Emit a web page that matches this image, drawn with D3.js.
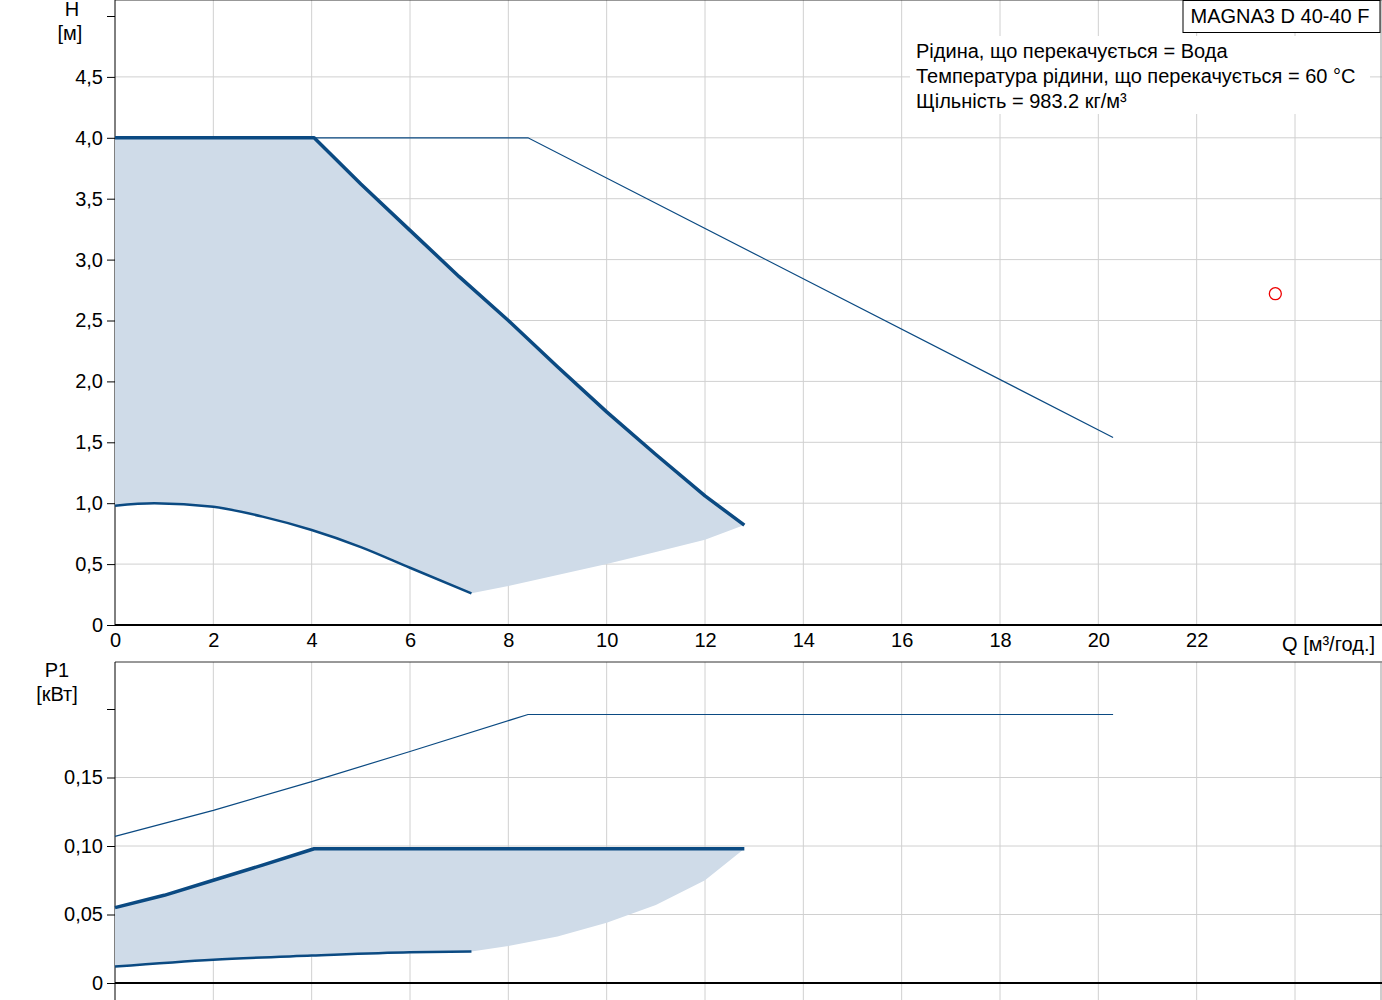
<!DOCTYPE html>
<html><head><meta charset="utf-8">
<script src="https://cdn.jsdelivr.net/npm/d3@7"></script>
<style>body{margin:0;background:#fff}text{font-family:"Liberation Sans",Arial,sans-serif;font-size:20px;fill:#000}</style>
</head><body><svg id="c" width="1382" height="1000"></svg>
<script>
// head curves [Q, H]
let hMax = [[0,4.0],[4.05,4.0],[5,3.62],[6,3.24],[7,2.86],[8,2.5],[9,2.12],[10,1.75],[11,1.4],[12,1.06],[12.8,0.82]];
let hMin = [[0,0.98],[0.8,1.0],[2,0.97],[3,0.89],[4,0.78],[5,0.64],[6,0.47],[7.25,0.26]];
let hEdge = [[7.25,0.26],[8,0.32],[9,0.41],[10,0.5],[11,0.6],[12,0.7],[12.8,0.82]];
let hThin = [[0,4.0],[8.4,4.0],[20.3,1.54]];
let dutyPoint = [23.6, 2.72];
// power curves [Q, P1]
let pMax = [[0,0.055],[1,0.064],[2,0.075],[3,0.086],[4.05,0.098],[12.8,0.098]];
let pMin = [[0,0.012],[2,0.017],[4,0.02],[6,0.0225],[7.25,0.023]];
let pEdge = [[7.25,0.023],[8,0.027],[9,0.034],[10,0.044],[11,0.057],[12,0.075],[12.8,0.098]];
let pThin = [[0,0.107],[2,0.126],[4,0.147],[6,0.169],[8.4,0.196],[20.3,0.196]];
let xTicks = [0,2,4,6,8,10,12,14,16,18,20,22];
let hTicks = [0,0.5,1,1.5,2,2.5,3,3.5,4,4.5];
let pTicks = [0,0.05,0.1,0.15];
let infoLines = ["Рідина, що перекачується = Вода","Температура рідини, що перекачується = 60 °C","Щільність = 983.2 кг/м³"];

const svg = d3.select("#c");
const dark = "#0b4a82", fillC = "#cfdbe8", grid = "#d0d0d0";
const x = d3.scaleLinear().domain([0,24]).range([115,1295]);
const yH = d3.scaleLinear().domain([0,5]).range([625,16]);
const yP = d3.scaleLinear().domain([0,0.2]).range([983,709]);

function panel(y, ticks, top, bottom, dec){
  const g = svg.append("g");
  [...xTicks.slice(1), 24].forEach(t => g.append("line").attr("x1",x(t)).attr("x2",x(t)).attr("y1",top).attr("y2",bottom).attr("stroke",grid));
  ticks.slice(1).forEach(t => g.append("line").attr("x1",115).attr("x2",1382).attr("y1",y(t)).attr("y2",y(t)).attr("stroke",grid));
  g.append("line").attr("x1",115).attr("x2",1382).attr("y1",top).attr("y2",top).attr("stroke","#333");
  g.append("line").attr("x1",1381).attr("x2",1381).attr("y1",top).attr("y2",bottom).attr("stroke","#999");
  const ax = g.append("g").attr("transform","translate(115,0)").call(d3.axisLeft(y).tickValues([...ticks, y.domain()[1]]).tickSize(8).tickPadding(4).tickFormat(d => d===y.domain()[1] ? "" : (d===0?"0":d3.format("."+dec+"f")(d).replace(".",","))));
  ax.select(".domain").attr("d","M0,"+top+"V"+bottom);
  ax.selectAll("text").style("font-size","20px").attr("dy","0.32em");
  g.append("line").attr("x1",115).attr("x2",1382).attr("y1",y(0)).attr("y2",y(0)).attr("stroke","#000").attr("stroke-width",2);
  return g;
}
const gH = panel(yH, hTicks, 0, 625, 1);
const gP = panel(yP, pTicks, 662, 1000, 2);

const xa = svg.append("g").attr("transform","translate(0,625)").call(d3.axisBottom(x).tickValues(xTicks).tickSize(0).tickPadding(8));
xa.select(".domain").remove(); xa.selectAll("text").style("font-size","20px");
svg.append("text").attr("x",1375).attr("y",651).attr("text-anchor","end").text("Q [м³/год.]");
svg.append("text").attr("x",72).attr("y",16).attr("text-anchor","middle").text("H");
svg.append("text").attr("x",70).attr("y",40).attr("text-anchor","middle").text("[м]");
svg.append("text").attr("x",57).attr("y",677).attr("text-anchor","middle").text("P1");
svg.append("text").attr("x",57).attr("y",701).attr("text-anchor","middle").text("[кВт]");

function draw(g, y, mx, mn, edge, thin){
  const lin = d3.line().x(d=>x(d[0])).y(d=>y(d[1]));
  const smooth = d3.line().x(d=>x(d[0])).y(d=>y(d[1])).curve(d3.curveMonotoneX);
  const poly = [...mx, ...edge.slice().reverse(), ...mn.slice().reverse()];
  g.append("path").attr("d", lin(poly)).attr("fill",fillC);
  g.append("path").attr("d",lin(thin)).attr("fill","none").attr("stroke",dark).attr("stroke-width",1.2);
  g.append("path").attr("d",lin(mx)).attr("fill","none").attr("stroke",dark).attr("stroke-width",3.5).attr("stroke-linejoin","round");
  g.append("path").attr("d",smooth(mn)).attr("fill","none").attr("stroke",dark).attr("stroke-width",2.5);
}
draw(gH, yH, hMax, hMin, hEdge, hThin);
draw(gP, yP, pMax, pMin, pEdge, pThin);
gH.append("circle").attr("cx",x(dutyPoint[0])).attr("cy",yH(dutyPoint[1])).attr("r",6).attr("fill","none").attr("stroke","#e00").attr("stroke-width",1.3);

svg.append("rect").attr("x",1183).attr("y",0.5).attr("width",197).attr("height",32).attr("fill","#fff").attr("stroke","#000");
svg.append("text").attr("x",1280).attr("y",23).attr("text-anchor","middle").text("MAGNA3 D 40-40 F");
svg.append("rect").attr("x",910).attr("y",36).attr("width",460).attr("height",78).attr("fill","#fff");
infoLines.forEach((t,i)=>svg.append("text").attr("x",916).attr("y",58+i*25).text(t));
</script></body></html>
